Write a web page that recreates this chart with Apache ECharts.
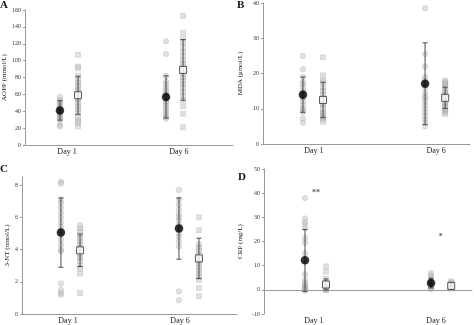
<!DOCTYPE html>
<html>
<head>
<meta charset="utf-8">
<script src="https://cdn.jsdelivr.net/npm/echarts@6/dist/echarts.min.js"></script>
<style>
  html, body { margin: 0; padding: 0; background: #fff; }
  #chart { width: 474px; height: 325px; }
</style>
</head>
<body>
<div id="chart"></div>
<script>
// Categories
const days = ['Day 1', 'Day 6'];

// A: AOPP (individual values, group shown with circles / squares)
const aoppCirDay1 = [57, 53, 51, 49, 47, 45, 44, 42, 41, 40, 38, 37, 35, 33, 31, 30, 24, 22];
const aoppSqDay1 = [107, 93, 91, 82, 78, 74, 70, 66, 63, 60, 57, 54, 50, 46, 42, 38, 33, 29, 26, 22];
const aoppCirDay6 = [123, 108, 82, 75, 72, 68, 65, 62, 60, 57, 55, 52, 50, 47, 44, 41, 38, 35, 33, 31];
const aoppSqDay6 = [153, 133, 126, 122, 116, 110, 105, 100, 96, 92, 88, 84, 80, 76, 72, 68, 63, 58, 53, 46, 37, 21];
const aoppCirMean = [41, 57];
const aoppCirSd = [11.5, 25];
const aoppSqMean = [59, 89];
const aoppSqSd = [22.5, 36];

// B: MDA
const mdaCirDay1 = [25, 21.2, 19, 17.5, 17, 16, 15, 14.5, 13.5, 13, 12, 11, 10, 9.5, 9, 7.2, 6];
const mdaSqDay1 = [24.6, 19.5, 18, 17.5, 16, 15, 14, 13, 12.5, 11.5, 11, 10, 9, 8.5, 8, 7.5, 7, 6.3];
const mdaCirDay6 = [38.5, 25.5, 22, 19, 18, 17, 16, 14.5, 13.5, 13, 12, 11, 10, 9, 8, 7, 6, 5];
const mdaSqDay6 = [18, 17.5, 17, 16.5, 16, 15, 14.5, 14, 13.5, 13, 12, 11.5, 11, 10.5, 10, 9.5, 9, 8.5];
const mdaCirMean = [14, 17.1];
const mdaCirSd = [5, 11.6];
const mdaSqMean = [12.5, 13.1];
const mdaSqSd = [5, 3];

// C: 3-NT
const ntCirDay1 = [8.2, 8.1, 7.1, 6.9, 6.6, 6.3, 6.0, 5.7, 5.4, 5.1, 4.9, 4.6, 4.3, 4.0, 3.9, 1.9, 1.5, 1.3, 1.2];
const ntSqDay1 = [5.5, 5.3, 5.1, 4.9, 4.7, 4.5, 4.3, 4.1, 3.9, 3.7, 3.5, 3.3, 3.0, 2.8, 2.5, 1.3];
const ntCirDay6 = [7.7, 7.1, 6.8, 6.5, 6.2, 6.0, 5.8, 5.5, 5.3, 5.0, 4.8, 4.5, 4.2, 1.4, 0.85];
const ntSqDay6 = [6.0, 5.2, 4.3, 4.1, 3.9, 3.7, 3.5, 3.3, 3.1, 2.9, 2.7, 2.5, 2.3, 2.1, 1.6, 1.1];
const ntCirMean = [5.05, 5.3];
const ntCirSd = [2.15, 1.9];
const ntSqMean = [3.95, 3.45];
const ntSqSd = [1.0, 1.25];

// D: CRP
const crpCirDay1 = [38, 29.5, 28, 27, 25.5, 21.5, 19.5, 15, 6.5, 4, 3, 2, 1.5, 1, 0.5, 0, 0, -0.3];
const crpSqDay1 = [9.7, 7.5, 4.5, 3, 2, 1.5, 1, 0.5, 0.3, 0, 0];
const crpCirDay6 = [7, 6, 5, 4, 3.5, 3, 2.5, 2, 1.5, 1, 0.5, 0.3];
const crpSqDay6 = [3.5, 3, 2.5, 2, 1.5, 1.2, 1, 0.8, 0.5];
const crpCirMean = [12.2, 2.8];
const crpCirSd = [12.8, 2.0];
const crpSqMean = [2.2, 1.6];
const crpSqSd = [2.3, 1.1];

// Significance marks on panel D
const crpSigText = ['**', '*'];
const crpSigValue = [40, 22];

// Y axis ticks
const aoppTicks = [0, 20, 40, 60, 80, 100, 120, 140, 160];
const mdaTicks = [0, 10, 20, 30, 40];
const ntTicks = [0, 2, 4, 6, 8];
const crpTicks = [-10, 0, 10, 20, 30, 40, 50];

const FONT = 'Liberation Serif';

// Panel layout: grid box in px, day label / marker positions along a 0-100 x scale
const panels = [
  { letter: 'A', name: 'AOPP (mmol/L)', grid: { left: 25, top: 10, width: 208, height: 135 },
    yMin: 0, yMax: 160, ticks: aoppTicks, nameGap: 17, letterPos: [0, 0],
    labelX: [20.2, 74], cirX: [16.8, 67.8], sqX: [25.5, 76],
    cir: [aoppCirDay1, aoppCirDay6], sq: [aoppSqDay1, aoppSqDay6],
    cirMean: aoppCirMean, cirSd: aoppCirSd, sqMean: aoppSqMean, sqSd: aoppSqSd },
  { letter: 'B', name: 'MDA (μmol/L)', grid: { left: 263, top: 3, width: 207, height: 141 },
    yMin: 0, yMax: 40, ticks: mdaTicks, nameGap: 19, letterPos: [237, 0],
    labelX: [24.6, 83.6], cirX: [19.3, 78.3], sqX: [29, 88],
    cir: [mdaCirDay1, mdaCirDay6], sq: [mdaSqDay1, mdaSqDay6],
    cirMean: mdaCirMean, cirSd: mdaCirSd, sqMean: mdaSqMean, sqSd: mdaSqSd },
  { letter: 'C', name: '3-NT (nmol/L)', grid: { left: 22, top: 177, width: 215, height: 138 },
    yMin: 0, yMax: 8.5, ticks: ntTicks, nameGap: 10, letterPos: [0, 164],
    labelX: [21.4, 73.5], cirX: [18.1, 73], sqX: [27, 82.3],
    cir: [ntCirDay1, ntCirDay6], sq: [ntSqDay1, ntSqDay6],
    cirMean: ntCirMean, cirSd: ntCirSd, sqMean: ntSqMean, sqSd: ntSqSd },
  { letter: 'D', name: 'CRP (mg/L)', grid: { left: 264, top: 169, width: 208, height: 146 },
    yMin: -10, yMax: 50, ticks: crpTicks, nameGap: 20, letterPos: [238, 172],
    labelX: [24, 82.7], cirX: [19.7, 80.3], sqX: [29.8, 90],
    cir: [crpCirDay1, crpCirDay6], sq: [crpSqDay1, crpSqDay6],
    cirMean: crpCirMean, cirSd: crpCirSd, sqMean: crpSqMean, sqSd: crpSqSd,
    sigX: [25, 85] }
];

const grids = [], xAxes = [], yAxes = [], series = [], graphics = [];

function errorBarSeries(idx, xs, means, sds) {
  return {
    type: 'custom', xAxisIndex: idx, yAxisIndex: idx, z: 3, silent: true,
    data: means.map((m, i) => [xs[i], m, sds[i]]),
    renderItem: function (params, api) {
      const x = api.value(0), m = api.value(1), s = api.value(2);
      const top = api.coord([x, m + s]);
      const bot = api.coord([x, m - s]);
      const cap = 2.5;
      const style = { stroke: '#4a4a4a', lineWidth: 1 };
      return {
        type: 'group',
        children: [
          { type: 'line', shape: { x1: top[0], y1: top[1], x2: bot[0], y2: bot[1] }, style },
          { type: 'line', shape: { x1: top[0] - cap, y1: top[1], x2: top[0] + cap, y2: top[1] }, style },
          { type: 'line', shape: { x1: bot[0] - cap, y1: bot[1], x2: bot[0] + cap, y2: bot[1] }, style }
        ]
      };
    }
  };
}

panels.forEach((p, idx) => {
  grids.push(Object.assign({ containLabel: false }, p.grid));
  xAxes.push({
    type: 'value', gridIndex: idx, min: 0, max: 100,
    axisLine: { show: true, lineStyle: { color: '#9a9a9a', width: 1 } },
    axisTick: { show: false },
    splitLine: { show: false },
    axisLabel: {
      show: true, customValues: p.labelX, margin: 3,
      fontFamily: FONT, fontSize: 8, color: '#222',
      formatter: v => days[p.labelX.indexOf(v)]
    }
  });
  yAxes.push({
    type: 'value', gridIndex: idx, min: p.yMin, max: p.yMax,
    name: p.name, nameLocation: 'middle', nameGap: p.nameGap,
    nameTextStyle: { fontFamily: FONT, fontSize: 7, color: '#222' },
    axisLine: { show: true, lineStyle: { color: '#9a9a9a', width: 1 } },
    axisTick: { show: true, customValues: p.ticks, length: 2, inside: false, lineStyle: { color: '#9a9a9a' } },
    splitLine: { show: false },
    axisLabel: { customValues: p.ticks, margin: 4, fontFamily: FONT, fontSize: 6, color: '#333' }
  });

  // individual values
  const cirPts = [], sqPts = [];
  p.cir.forEach((arr, d) => arr.forEach(v => cirPts.push([p.cirX[d], v])));
  p.sq.forEach((arr, d) => arr.forEach(v => sqPts.push([p.sqX[d], v])));
  series.push({
    type: 'scatter', xAxisIndex: idx, yAxisIndex: idx, z: 2, silent: true,
    symbol: 'circle', symbolSize: 5.5, data: cirPts,
    itemStyle: { color: 'rgba(180,180,180,0.5)', borderColor: 'rgba(150,150,150,0.5)', borderWidth: 0.6 }
  });
  series.push({
    type: 'scatter', xAxisIndex: idx, yAxisIndex: idx, z: 2, silent: true,
    symbol: 'rect', symbolSize: 5, data: sqPts,
    itemStyle: { color: 'rgba(180,180,180,0.5)', borderColor: 'rgba(150,150,150,0.5)', borderWidth: 0.6 }
  });

  // mean ± SD
  series.push(errorBarSeries(idx, p.cirX, p.cirMean, p.cirSd));
  series.push(errorBarSeries(idx, p.sqX, p.sqMean, p.sqSd));
  series.push({
    type: 'scatter', xAxisIndex: idx, yAxisIndex: idx, z: 4, silent: true,
    symbol: 'circle', symbolSize: 8.5,
    data: p.cirMean.map((m, i) => [p.cirX[i], m]),
    itemStyle: { color: '#000' }
  });
  series.push({
    type: 'scatter', xAxisIndex: idx, yAxisIndex: idx, z: 4, silent: true,
    symbol: 'rect', symbolSize: 7,
    data: p.sqMean.map((m, i) => [p.sqX[i], m]),
    itemStyle: { color: '#fff', borderColor: '#333', borderWidth: 1 }
  });

  if (p.sigX) {
    series.push({
      type: 'scatter', xAxisIndex: idx, yAxisIndex: idx, z: 5, silent: true,
      symbolSize: 0,
      data: crpSigValue.map((v, i) => ({ value: [p.sigX[i], v], label: { formatter: crpSigText[i] } })),
      label: { show: true, position: 'inside', fontFamily: FONT, fontSize: 8, fontWeight: 'bold', color: '#333' }
    });
  }

  graphics.push({
    type: 'text', left: p.letterPos[0], top: p.letterPos[1],
    style: { text: p.letter, font: 'bold 11px "Liberation Serif"', fill: '#111' }
  });
});

const chart = echarts.init(document.getElementById('chart'), null, { renderer: 'canvas' });
chart.setOption({
  animation: false,
  backgroundColor: '#fff',
  grid: grids,
  xAxis: xAxes,
  yAxis: yAxes,
  series: series,
  graphic: graphics
});
</script>
</body>
</html>
